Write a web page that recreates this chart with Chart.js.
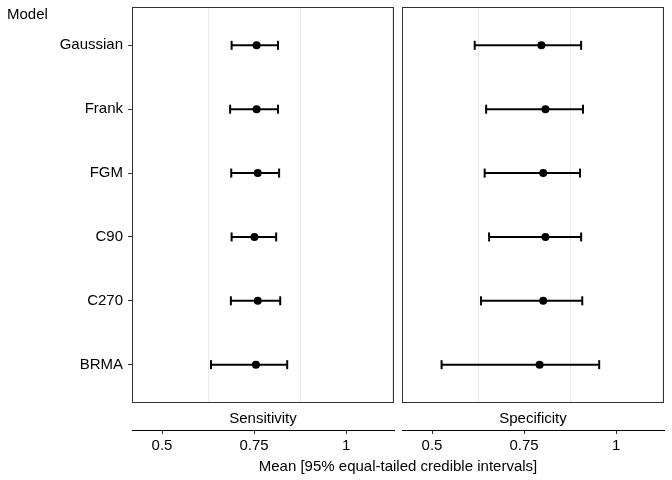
<!DOCTYPE html>
<html>
<head>
<meta charset="utf-8">
<script src="https://cdn.jsdelivr.net/npm/chart.js@4"></script>
<style>
  body { margin: 0; background: #fff; font-family: "Liberation Sans", Arial, sans-serif; }
  #wrap { position: relative; width: 672px; height: 480px; }
  canvas { position: absolute; top: 0; }
  .txt { position: absolute; font-size: 15px; line-height: 18px; color: #000; white-space: nowrap; }
</style>
</head>
<body>
<div id="wrap">
  <canvas id="sens" width="398" height="480" style="left:0"></canvas>
  <canvas id="spec" width="274" height="480" style="left:398px"></canvas>
  <div class="txt" style="left:7px; top:5px">Model</div>
  <div class="txt" style="left:0; width:796px; top:457px; text-align:center">Mean [95% equal-tailed credible intervals]</div>
</div>
<script>
// models, top to bottom
var models = ['Gaussian', 'Frank', 'FGM', 'C90', 'C270', 'BRMA'];

var sensMean  = [0.757, 0.757, 0.760, 0.751, 0.760, 0.755];
var sensLower = [0.689, 0.685, 0.688, 0.689, 0.687, 0.633];
var sensUpper = [0.815, 0.815, 0.818, 0.810, 0.821, 0.840];

var specMean  = [0.797, 0.808, 0.802, 0.808, 0.802, 0.792];
var specLower = [0.616, 0.647, 0.643, 0.655, 0.633, 0.526];
var specUpper = [0.905, 0.910, 0.902, 0.905, 0.908, 0.954];

var tickValues = [0.5, 0.75, 1];
var tickLabels = ['0.5', '0.75', '1'];
var minorGrid = [0.625, 0.875, 1.125];

Chart.defaults.font.family = '"Liberation Sans", Arial, sans-serif';
Chart.defaults.font.size = 15;
Chart.defaults.color = '#000';

var panelBorder = {
  id: 'panelBorder',
  afterDraw: function(chart) {
    var ca = chart.chartArea, ctx = chart.ctx;
    ctx.save();
    ctx.strokeStyle = '#333';
    ctx.lineWidth = 1;
    ctx.strokeRect(Math.round(ca.left) + 0.5, Math.round(ca.top) + 0.5,
      Math.round(ca.right - ca.left) - 1, Math.round(ca.bottom - ca.top) - 1);
    ctx.restore();
  }
};

function noPadX(s) { s.paddingLeft = 0; s.paddingRight = 0; }

function makePanel(id, title, mean, lower, upper, showY) {
  var datasets = models.map(function(m, i) {
    return {
      label: m,
      data: [{x: lower[i], y: i}, {x: upper[i], y: i}],
      showLine: true,
      borderColor: '#000',
      borderWidth: 2,
      pointStyle: 'line',
      rotation: 90,
      pointRadius: 4.5,
      pointBorderWidth: 2,
      pointBorderColor: '#000'
    };
  });
  datasets.push({
    label: 'mean',
    data: models.map(function(m, i) { return {x: mean[i], y: i}; }),
    showLine: false,
    pointStyle: 'circle',
    pointRadius: 4,
    pointBorderWidth: 0,
    pointBackgroundColor: '#000'
  });

  return new Chart(document.getElementById(id).getContext('2d'), {
    type: 'scatter',
    data: { datasets: datasets },
    plugins: [panelBorder],
    options: {
      responsive: false,
      animation: false,
      devicePixelRatio: 1,
      layout: {
        autoPadding: false,
        padding: showY ? {left: 0, right: 4, top: 7, bottom: 0} : {left: 4, right: 8, top: 7, bottom: 0}
      },
      plugins: { legend: { display: false }, tooltip: { enabled: false } },
      scales: {
        y: {
          type: 'linear',
          display: showY,
          reverse: true,
          min: -0.6,
          max: 5.6,
          afterBuildTicks: function(s) { s.ticks = models.map(function(m, i) { return {value: i}; }); },
          afterFit: function(s) {
            if (showY) s.width = 132;
            s.paddingTop = 0; s.paddingBottom = 0;
          },
          ticks: {
            padding: 5,
            color: '#000',
            callback: function(v) { return models[v]; }
          },
          grid: { drawOnChartArea: false, drawTicks: true, tickLength: 4, color: '#333' },
          border: { display: false }
        },
        x: {
          type: 'linear',
          position: 'bottom',
          weight: 0,
          min: 0.4185,
          max: 1.13,
          afterBuildTicks: function(s) { s.ticks = minorGrid.map(function(v) { return {value: v}; }); },
          afterFit: function(s) { s.height = 27; noPadX(s); },
          ticks: { display: false },
          grid: { drawTicks: false, color: '#ebebeb', lineWidth: 1 },
          border: { display: false },
          title: { display: true, text: title, color: '#000', padding: {top: 0, bottom: 2} }
        },
        x2: {
          type: 'linear',
          position: 'bottom',
          weight: 1,
          min: 0.4185,
          max: 1.13,
          afterBuildTicks: function(s) { s.ticks = tickValues.map(function(v) { return {value: v}; }); },
          afterFit: function(s) { s.height = 50; noPadX(s); },
          ticks: {
            padding: 3,
            color: '#000',
            maxRotation: 0,
            callback: function(v) { return tickLabels[tickValues.indexOf(v)]; }
          },
          grid: { drawOnChartArea: false, drawTicks: true, tickLength: 4, color: '#333' },
          border: { display: true, color: '#000', width: 1 }
        }
      }
    }
  });
}

makePanel('sens', 'Sensitivity', sensMean, sensLower, sensUpper, true);
makePanel('spec', 'Specificity', specMean, specLower, specUpper, false);
</script>
</body>
</html>
